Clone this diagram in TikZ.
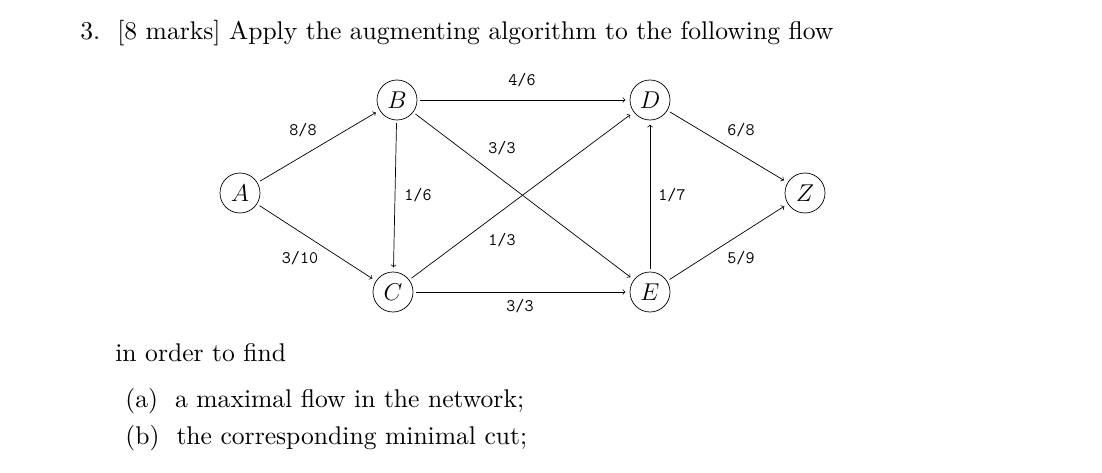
\documentclass[tikz,border=0pt]{standalone}
\usepackage{amsmath}
\usepackage{fontspec}
\usetikzlibrary{arrows,positioning,calc}
\newfontfamily\qfont{lmroman10-regular.otf}

\begin{document}
\begin{tikzpicture}[>=to, line width=0.5pt,
    every edge/.style={draw, ->, shorten <=2pt, shorten >=3pt},
    vertex/.style={draw, circle, minimum size=1.0cm, inner sep=0pt, font=\fontsize{17}{18}\selectfont},
    lbl/.style={font=\fontsize{12.5}{14}\selectfont\ttfamily},
    txt/.style={anchor=west, inner sep=0pt, font=\qfont\fontsize{18.2}{20}\selectfont}]
    \useasboundingbox (0,0) rectangle (27.55,11.8);
    % vertices
    \node (A) [vertex] at (6.0,6.975) {$A$};
    \node (B) [vertex] at (9.925,9.3) {$B$};
    \node (C) [vertex] at (9.825,4.5) {$C$};
    \node (D) [vertex] at (16.25,9.3) {$D$};
    \node (E) [vertex] at (16.25,4.5) {$E$};
    \node (Z) [vertex] at (20.125,6.975) {$Z$};

    % edges
    \path (A) edge (B)
          (A) edge (C)
          (B) edge (D)
          (B) edge (C)
          (B) edge (E)
          (C) edge (D)
          (C) edge (E)
          (E) edge (D)
          (D) edge (Z)
          (E) edge (Z);

    % flow labels
    \node (lab) [lbl] at (13.05,9.8) {4/6};
    \node (lac) [lbl] at (7.575,8.55) {8/8};
    \node (lbe) [lbl] at (12.55,8.1) {3/3};
    \node (lbc) [lbl] at (10.45,6.925) {1/6};
    \node (lcd) [lbl] at (12.55,5.8) {1/3};
    \node (lca) [lbl] at (7.5,5.35) {3/10};
    \node (lce) [lbl] at (13.0,4.15) {3/3};
    \node (ldz) [lbl] at (18.525,8.55) {6/8};
    \node (led) [lbl] at (16.8,6.925) {1/7};
    \node (lez) [lbl] at (18.525,5.35) {5/9};

    % question text
    \node (title) [txt] at (2.0,10.975) {3.\ \ [8 marks] Apply the augmenting algorithm to the following flow};
    \node (order) [txt] at (2.875,2.995) {in order to find};
    \node (parta) [txt] at (3.125,1.775) {(a)\ \ a maximal flow in the network;};
    \node (partb) [txt] at (3.125,0.85) {(b)\ \ the corresponding minimal cut;};
\end{tikzpicture}
\end{document}
